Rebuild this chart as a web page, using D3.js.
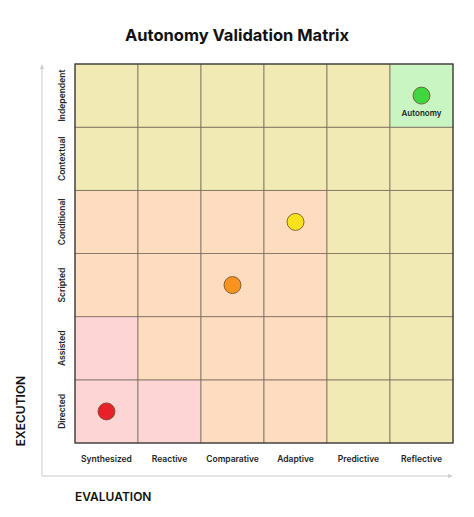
<!DOCTYPE html><html><head><meta charset="utf-8"><script src="https://cdn.jsdelivr.net/npm/d3@7"></script>
<style>body{margin:0;background:#fff}text{font-family:Inter,"Noto Sans",sans-serif}</style></head><body><svg id="c" width="474" height="517"></svg>
<script>
const evaluation=["Synthesized","Reactive","Comparative","Adaptive","Predictive","Reflective"];
const execution=["Directed","Assisted","Scripted","Conditional","Contextual","Independent"];
const pinkCells=[["Synthesized","Directed"],["Reactive","Directed"],["Synthesized","Assisted"]];
const greenCells=[["Reflective","Independent"]];
const points=[
 {e:"Synthesized",x:"Directed",color:"#e8202a",label:""},
 {e:"Comparative",x:"Scripted",color:"#f7931e",label:""},
 {e:"Adaptive",x:"Conditional",color:"#f7e21b",label:""},
 {e:"Reflective",x:"Independent",color:"#3fd63f",label:"Autonomy"}];
const svg=d3.select("#c");
const x=d3.scaleBand().domain(evaluation).range([75,453]);
const y=d3.scaleBand().domain(execution).range([443,64]);
function fill(e,ex){
 if(greenCells.some(c=>c[0]===e&&c[1]===ex))return "#c9f5c2";
 if(pinkCells.some(c=>c[0]===e&&c[1]===ex))return "#fdd5d5";
 const i=evaluation.indexOf(e),j=execution.indexOf(ex);
 if(i>=4||j>=4)return "#f2eab4";
 return "#fddcc0";
}
const cells=[];evaluation.forEach(e=>execution.forEach(ex=>cells.push([e,ex])));
svg.selectAll("rect.c").data(cells).join("rect").attr("x",d=>x(d[0])).attr("y",d=>y(d[1]))
 .attr("width",x.bandwidth()).attr("height",y.bandwidth()).attr("fill",d=>fill(d[0],d[1]))
 .attr("stroke","#7a6e5c").attr("stroke-width",0.8);
svg.append("rect").attr("x",75).attr("y",64).attr("width",378).attr("height",379).attr("fill","none").attr("stroke","#3a3a3a").attr("stroke-width",1.2);
const g="#ddd";
svg.append("line").attr("x1",42).attr("x2",42).attr("y1",68).attr("y2",476).attr("stroke",g).attr("stroke-width",1.5);
svg.append("line").attr("x1",42).attr("x2",449).attr("y1",476).attr("y2",476).attr("stroke",g).attr("stroke-width",1.5);
svg.append("path").attr("d","M42,64 L40,69 L44,69Z").attr("fill","#ccc");
svg.append("path").attr("d","M453,476 L448,474 L448,478Z").attr("fill","#ccc");
evaluation.forEach(e=>svg.append("text").attr("x",x(e)+x.bandwidth()/2).attr("y",462).attr("text-anchor","middle").attr("font-size",8.5).attr("font-weight",600).attr("fill","#222").text(e));
execution.forEach(ex=>svg.append("text").attr("transform",`translate(65,${y(ex)+y.bandwidth()/2}) rotate(-90)`).attr("text-anchor","middle").attr("font-size",8.5).attr("font-weight",600).attr("fill","#222").text(ex));
svg.append("text").attr("x",237).attr("y",41).attr("text-anchor","middle").attr("font-size",16.5).attr("font-weight",700).attr("fill","#111").text("Autonomy Validation Matrix");
svg.append("text").attr("x",75).attr("y",501).attr("font-size",12).attr("font-weight",600).attr("fill","#111").text("EVALUATION");
svg.append("text").attr("transform","translate(25,411) rotate(-90)").attr("text-anchor","middle").attr("font-size",12).attr("font-weight",600).attr("fill","#111").text("EXECUTION");
points.forEach(p=>{
 const cx=x(p.e)+x.bandwidth()/2, cy=y(p.x)+y.bandwidth()/2;
 svg.append("circle").attr("cx",cx).attr("cy",cy).attr("r",8.5).attr("fill",p.color).attr("stroke","#6b4a2a").attr("stroke-width",0.8);
 if(p.label)svg.append("text").attr("x",cx).attr("y",cy+20).attr("text-anchor","middle").attr("font-size",8).attr("font-weight",600).attr("fill","#222").text(p.label);
});
</script></body></html>
